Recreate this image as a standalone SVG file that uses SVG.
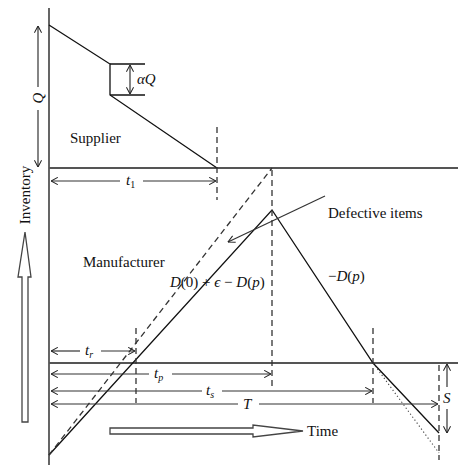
<svg xmlns="http://www.w3.org/2000/svg" width="474" height="474" viewBox="0 0 474 474">
<defs>
<marker id="ah" viewBox="0 0 10 10" refX="9.5" refY="5" markerWidth="8" markerHeight="8" markerUnits="userSpaceOnUse" orient="auto-start-reverse">
<path d="M1,0.5 L9.5,5 L1,9.5" fill="none" stroke="#222" stroke-width="1.3"/>
</marker>
<style>
.ax{stroke:#555;stroke-width:1.8;fill:none}
.ln{stroke:#111;stroke-width:1.3;fill:none}
.ds{stroke:#333;stroke-width:1.3;stroke-dasharray:6,4;fill:none}
.dt{stroke:#444;stroke-width:1.1;stroke-dasharray:1.2,2.5;fill:none}
.d0{stroke:#333;stroke-width:1.2;fill:none;marker-start:url(#ah)}
.d1{stroke:#333;stroke-width:1.2;fill:none;marker-end:url(#ah)}
.d2{stroke:#333;stroke-width:1.2;fill:none;marker-start:url(#ah);marker-end:url(#ah)}
.hol{fill:#fff;stroke:#444;stroke-width:1.3}
text{font-family:"Liberation Serif","Times New Roman",serif;font-size:15px;fill:#111}
.it{font-style:italic}
.sub{font-size:10px}
</style>
</defs>
<rect width="474" height="474" fill="#fff"/>

<g id="axes">
<line class="ax" x1="49" y1="8" x2="49" y2="465"/>
<line class="ax" x1="49" y1="168" x2="458" y2="168"/>
<line class="ax" x1="49" y1="363" x2="458" y2="363"/>
</g>

<g id="supplier">
<polyline class="ln" points="49,25 110,64 110,95 217,168"/>
<line class="ln" x1="110" y1="64" x2="145" y2="64"/>
<line class="ln" x1="110" y1="95" x2="145" y2="95"/>
<text x="70" y="143">Supplier</text>
</g>

<g id="manufacturer">
<polyline class="ln" points="49,455 272,210 373,363 439,433"/>
<line class="dt" x1="373" y1="363" x2="439" y2="453"/>
<line class="ds" x1="49" y1="455" x2="272" y2="168"/>
<text x="83" y="267">Manufacturer</text>
</g>

<g id="guides">
<line class="ds" x1="217" y1="127" x2="217" y2="200"/>
<line class="ds" x1="272" y1="170" x2="272" y2="389"/>
<line class="ds" x1="136" y1="328" x2="136" y2="403"/>
<line class="ds" x1="373" y1="328" x2="373" y2="403"/>
<line class="ds" x1="439" y1="365" x2="439" y2="460"/>
</g>

<g id="connectors">
<line class="d2" x1="130" y1="65" x2="130" y2="94"/>
<line class="d0" x1="38" y1="26" x2="38" y2="87"/>
<line class="d1" x1="38" y1="110" x2="38" y2="167"/>
<line class="d0" x1="51" y1="181" x2="120" y2="181"/>
<line class="d1" x1="143" y1="181" x2="216" y2="181"/>
<line class="d0" x1="51" y1="351" x2="80" y2="351"/>
<line class="d1" x1="101" y1="351" x2="135" y2="351"/>
<line class="d0" x1="51" y1="374" x2="149" y2="374"/>
<line class="d1" x1="172" y1="374" x2="271" y2="374"/>
<line class="d0" x1="51" y1="391" x2="202" y2="391"/>
<line class="d1" x1="222" y1="391" x2="372" y2="391"/>
<line class="d0" x1="51" y1="404" x2="238" y2="404"/>
<line class="d1" x1="259" y1="404" x2="438" y2="404"/>
<line class="d0" x1="447" y1="364" x2="447" y2="387"/>
<line class="d1" x1="447" y1="409" x2="447" y2="433"/>
<line class="d1" x1="325" y1="196" x2="228" y2="242"/>
</g>

<g id="labels">
<text class="it" x="137" y="84">αQ</text>
<text class="it" transform="translate(43,98) rotate(-90)" text-anchor="middle">Q</text>
<text x="126" y="185"><tspan class="it">t</tspan><tspan class="sub" dy="3">1</tspan></text>
<text x="85" y="355"><tspan class="it">t</tspan><tspan class="sub it" dy="3">r</tspan></text>
<text x="154" y="378"><tspan class="it">t</tspan><tspan class="sub it" dy="3">p</tspan></text>
<text x="206" y="395"><tspan class="it">t</tspan><tspan class="sub it" dy="3">s</tspan></text>
<text class="it" x="243" y="409">T</text>
<text class="it" x="443" y="403">S</text>
<text x="328" y="218">Defective items</text>
<text x="328" y="281">−<tspan class="it">D</tspan>(<tspan class="it">p</tspan>)</text>
<text x="170" y="287"><tspan class="it">D</tspan>(0) + <tspan class="it">ϵ</tspan> − <tspan class="it">D</tspan>(<tspan class="it">p</tspan>)</text>
<text x="307" y="436">Time</text>
<text transform="translate(30,195) rotate(-90)" text-anchor="middle">Inventory</text>
</g>

<g id="big-arrows">
<polygon class="hol" points="22,422 22,277 18,277 25,232 31,277 28,277 28,422"/>
<polygon class="hol" points="110,428 253,428 253,425 303,431 253,437 253,434 110,434"/>
</g>
</svg>
